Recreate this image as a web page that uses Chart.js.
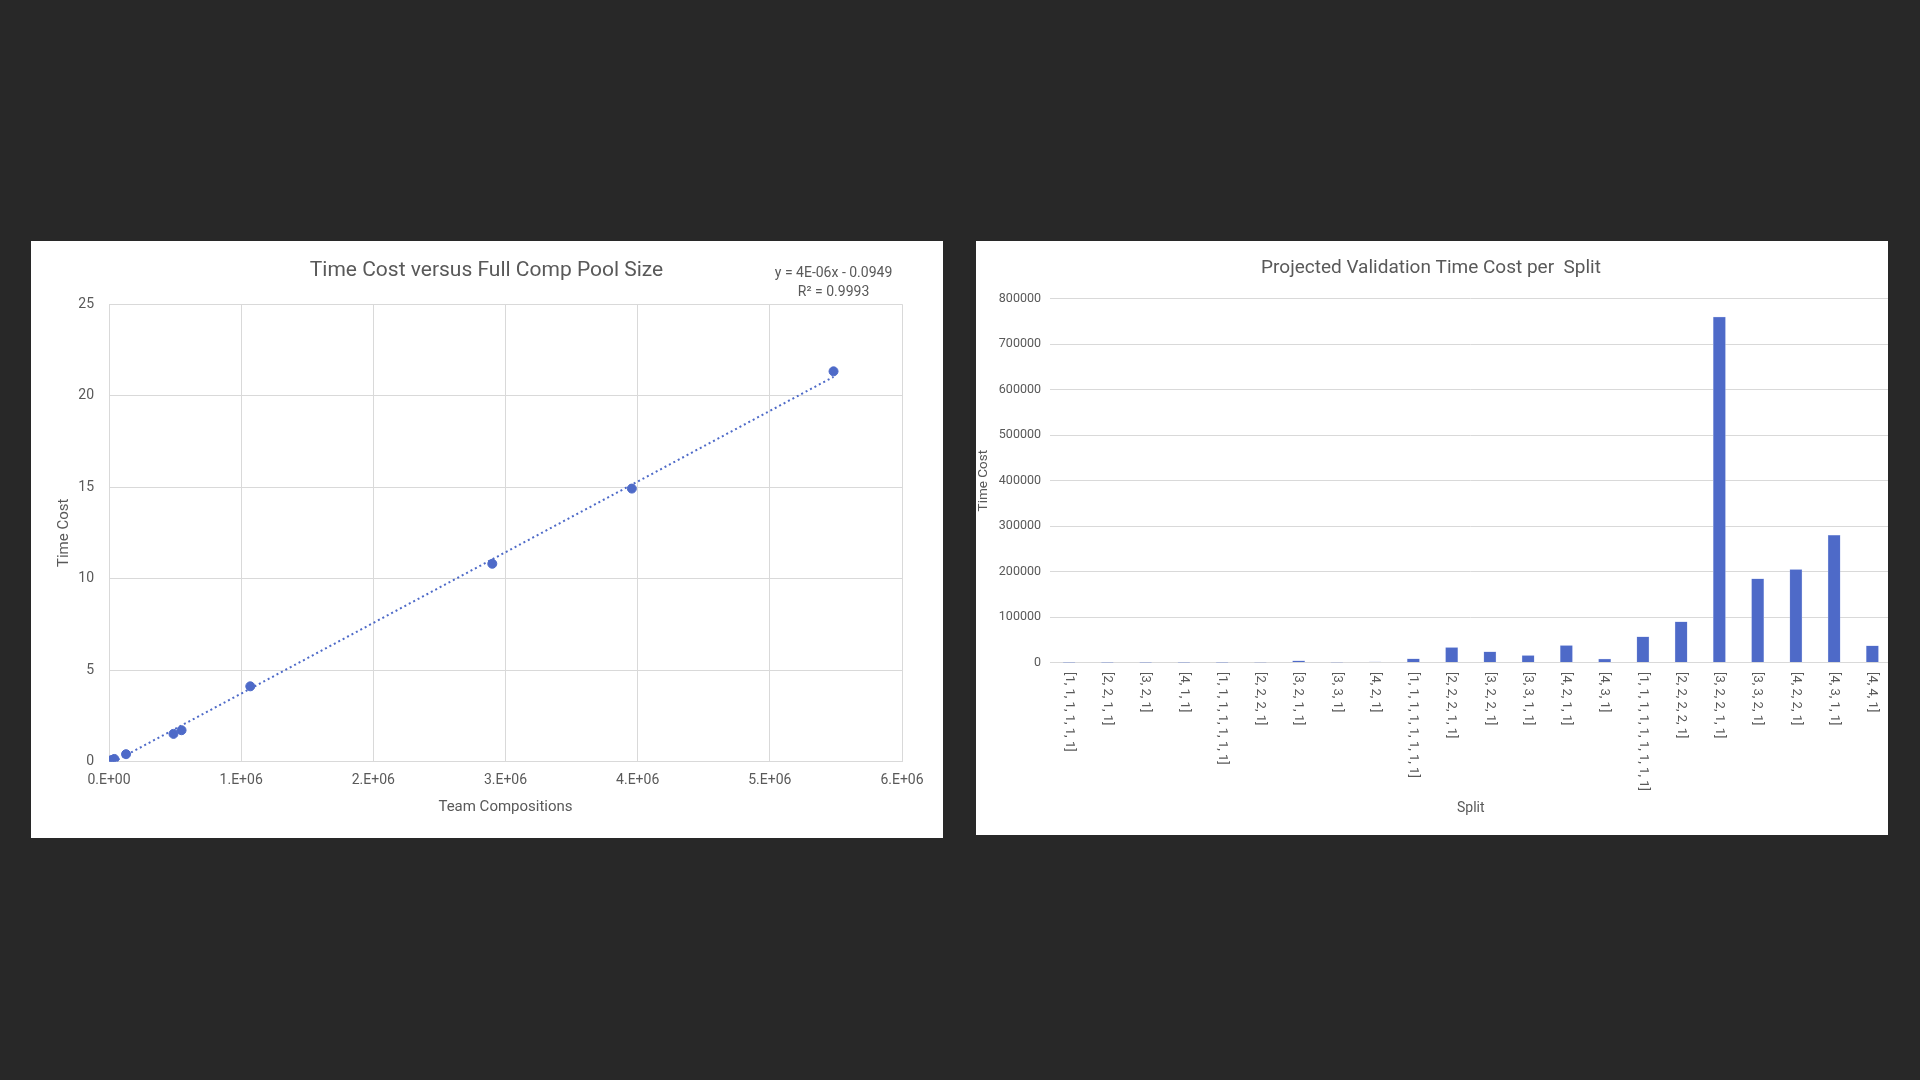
<!DOCTYPE html>
<html>
<head>
<meta charset="utf-8">
<title>Time Cost charts</title>
<script src="https://cdn.jsdelivr.net/npm/chart.js@4.4.1/dist/chart.umd.min.js"></script>
<style>
    body { margin: 0; width: 1920px; height: 1080px; background: #282828; overflow: hidden; }
    .panel { position: absolute; background: #ffffff; overflow: hidden; }
    #poolPanel { left: 31px; top: 241px; width: 912px; height: 597px; }
    #splitPanel { left: 976px; top: 241px; width: 912px; height: 594px; }
    #splitBox { width: 921px; height: 594px; }
</style>
</head>
<body>
<div class="panel" id="poolPanel"><canvas id="poolChart"></canvas></div>
<div class="panel" id="splitPanel"><div id="splitBox"><canvas id="splitChart"></canvas></div></div>
<script>
// Scatter data: full comp pool size vs time cost
const poolSizes = [0, 20000, 40000, 129000, 488000, 549000, 1069000, 2900000, 3956000, 5482000];
const poolTimes = [0.02, 0.08, 0.14, 0.40, 1.51, 1.71, 4.11, 10.81, 14.92, 21.33];

// Bar data: projected validation time cost per split
const splits = [
    '[1, 1, 1, 1, 1, 1]', '[2, 2, 1, 1]', '[3, 2, 1]', '[4, 1, 1]',
    '[1, 1, 1, 1, 1, 1, 1]', '[2, 2, 2, 1]', '[3, 2, 1, 1]', '[3, 3, 1]', '[4, 2, 1]',
    '[1, 1, 1, 1, 1, 1, 1, 1]', '[2, 2, 2, 1, 1]', '[3, 2, 2, 1]', '[3, 3, 1, 1]',
    '[4, 2, 1, 1]', '[4, 3, 1]', '[1, 1, 1, 1, 1, 1, 1, 1, 1]', '[2, 2, 2, 2, 1]',
    '[3, 2, 2, 1, 1]', '[3, 3, 2, 1]', '[4, 2, 2, 1]', '[4, 3, 1, 1]', '[4, 4, 1]'
];
const splitCosts = [
    10, 60, 150, 80, 90, 700, 3500, 600, 1100,
    8000, 33000, 23400, 15400, 37400, 7300, 56400, 89400,
    759700, 183900, 204400, 279900, 36600
];
const splitTicks = [0, 100000, 200000, 300000, 400000, 500000, 600000, 700000, 800000];

const FONT = 'Roboto, "Noto Sans", sans-serif';
const TEXT = '#595959';
const GRID = '#d9d9d9';
const BLUE = '#4e6ac8';

Chart.defaults.font.family = FONT;
Chart.defaults.color = TEXT;
Chart.defaults.animation = false;

// Least squares fit for the trendline
function linearFit(xs, ys) {
    const n = xs.length;
    const mx = xs.reduce((a, b) => a + b, 0) / n;
    const my = ys.reduce((a, b) => a + b, 0) / n;
    let sxy = 0, sxx = 0;
    for (let i = 0; i < n; i++) {
        sxy += (xs[i] - mx) * (ys[i] - my);
        sxx += (xs[i] - mx) * (xs[i] - mx);
    }
    const slope = sxy / sxx;
    return { slope: slope, intercept: my - slope * mx };
}

const fit = linearFit(poolSizes, poolTimes);
const minX = Math.min(...poolSizes);
const maxX = Math.max(...poolSizes);

function sciLabel(v) {
    if (v === 0) return '0.E+00';
    const e = Math.floor(Math.log10(v));
    return Math.round(v / Math.pow(10, e)) + '.E+' + String(e).padStart(2, '0');
}

// Trendline equation text, placed above the last point
const trendLabel = {
    id: 'trendLabel',
    afterDraw(chart) {
        const ctx = chart.ctx;
        const x = chart.scales.x.getPixelForValue(maxX);
        ctx.save();
        ctx.font = '14px ' + FONT;
        ctx.fillStyle = TEXT;
        ctx.textAlign = 'center';
        ctx.textBaseline = 'middle';
        ctx.fillText('y = 4E-06x - 0.0949', x, 32.5);
        ctx.fillText('R² = 0.9993', x, 51);
        ctx.restore();
    }
};

new Chart(document.getElementById('poolChart'), {
    type: 'scatter',
    data: {
        datasets: [
            {
                label: 'Time Cost',
                data: poolSizes.map((x, i) => ({ x: x, y: poolTimes[i] })),
                backgroundColor: BLUE,
                borderColor: BLUE,
                pointRadius: 4.5,
                order: 1
            },
            {
                type: 'line',
                label: 'Linear',
                data: [
                    { x: minX, y: fit.slope * minX + fit.intercept },
                    { x: maxX, y: fit.slope * maxX + fit.intercept }
                ],
                borderColor: BLUE,
                borderWidth: 2,
                borderDash: [2, 3],
                pointRadius: 0,
                fill: false,
                order: 2
            }
        ]
    },
    options: {
        responsive: true,
        maintainAspectRatio: false,
        layout: { padding: { left: 40, right: 41, top: 0, bottom: 22 } },
        plugins: {
            legend: { display: false },
            tooltip: { enabled: false },
            title: {
                display: true,
                text: 'Time Cost versus Full Comp Pool Size',
                font: { size: 21, weight: 'normal' },
                color: TEXT,
                padding: { top: 17, bottom: 21 }
            }
        },
        scales: {
            x: {
                type: 'linear',
                min: 0,
                max: 6000000,
                ticks: { stepSize: 1000000, callback: v => sciLabel(v), font: { size: 14 }, padding: 11, maxRotation: 0 },
                grid: { color: GRID, drawTicks: false },
                border: { color: GRID },
                title: { display: true, text: 'Team Compositions', font: { size: 15 }, padding: 0 },
                afterFit: s => { s.height = 54.5; }
            },
            y: {
                min: 0,
                max: 25,
                ticks: { stepSize: 5, font: { size: 14 }, padding: 15 },
                grid: { color: GRID, drawTicks: false },
                border: { color: GRID },
                title: { display: true, text: 'Time Cost', font: { size: 15 }, padding: { top: -16, bottom: 0 } },
                afterFit: s => { s.width = 38; }
            }
        }
    },
    plugins: [trendLabel]
});

// Draw split labels reading top to bottom under each bar
const verticalTicks = {
    id: 'verticalTicks',
    afterDraw(chart) {
        const xs = chart.scales.x;
        const ctx = chart.ctx;
        ctx.save();
        ctx.font = '13px ' + FONT;
        ctx.fillStyle = TEXT;
        ctx.textAlign = 'left';
        ctx.textBaseline = 'middle';
        splits.forEach((lab, i) => {
            ctx.save();
            ctx.translate(xs.getPixelForTick(i), xs.top + 9.5);
            ctx.rotate(Math.PI / 2);
            ctx.fillText(lab, 0, 0);
            ctx.restore();
        });
        ctx.restore();
    }
};

new Chart(document.getElementById('splitChart'), {
    type: 'bar',
    data: {
        labels: splits,
        datasets: [{
            label: 'Time Cost',
            data: splitCosts,
            backgroundColor: BLUE,
            borderColor: '#9fb0e6',
            borderWidth: 0.5,
            barThickness: 12
        }]
    },
    options: {
        responsive: true,
        maintainAspectRatio: false,
        layout: { padding: { left: -11, right: 0, top: 0, bottom: 18 } },
        plugins: {
            legend: { display: false },
            tooltip: { enabled: false },
            title: {
                display: true,
                text: 'Projected Validation Time Cost per  Split',
                font: { size: 19, weight: 'normal' },
                color: TEXT,
                padding: { top: 16, bottom: 19 }
            }
        },
        scales: {
            x: {
                ticks: { color: 'rgba(0,0,0,0)', font: { size: 13 }, minRotation: 90, maxRotation: 90, autoSkip: false, padding: 9 },
                grid: { display: false, drawTicks: false },
                border: { color: GRID },
                title: { display: true, text: 'Split', font: { size: 14 }, padding: 0 },
                afterFit: s => { s.height = 154.5; }
            },
            y: {
                min: 0,
                max: 800000,
                afterBuildTicks: s => { s.ticks = splitTicks.map(v => ({ value: v })); },
                ticks: { font: { size: 12.5 }, padding: 9, callback: v => String(v) },
                grid: { color: GRID, drawTicks: false },
                border: { display: false },
                title: { display: true, text: 'Time Cost', font: { size: 13.5 }, padding: { top: 11, bottom: 0 } },
                afterFit: s => { s.width = 85; }
            }
        }
    },
    plugins: [verticalTicks]
});
</script>
</body>
</html>
